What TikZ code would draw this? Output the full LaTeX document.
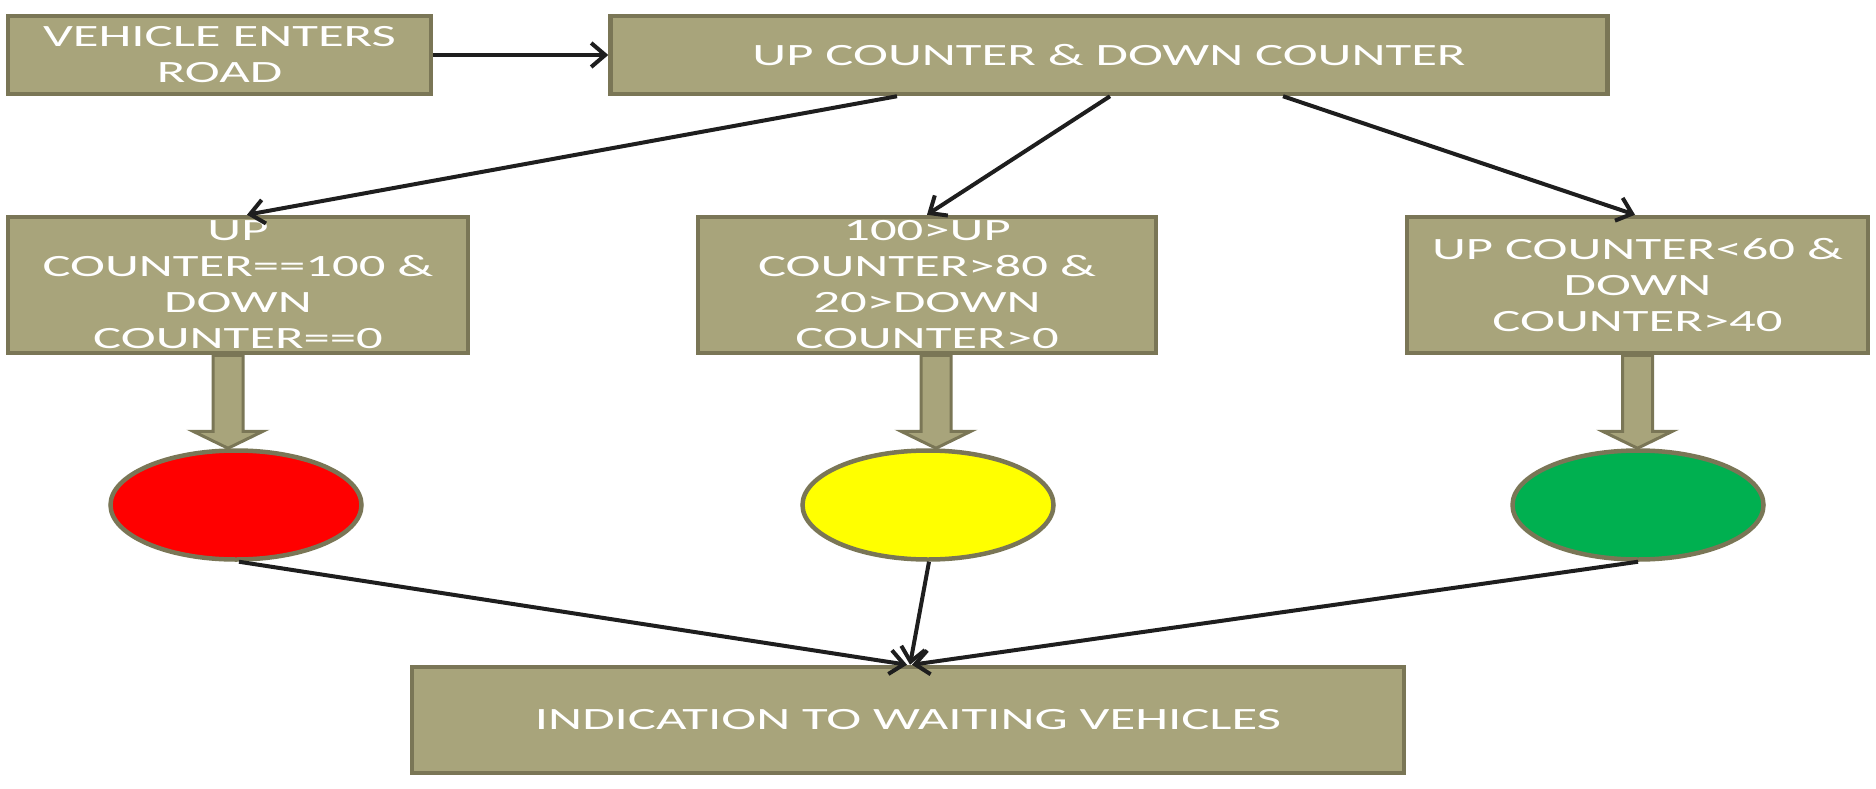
\documentclass[tikz,border=0pt]{standalone}
\usepackage{fontspec}
\setmainfont[FakeStretch=1.7]{Carlito}
\usetikzlibrary{arrows.meta,calc,shapes.geometric}
\definecolor{boxfill}{HTML}{A8A47B}
\definecolor{boxline}{HTML}{7A7656}
\definecolor{linecol}{HTML}{1E1E1E}
\definecolor{lampred}{HTML}{FF0000}
\definecolor{lampyellow}{HTML}{FFFF00}
\definecolor{lampgreen}{HTML}{00B050}
\newcommand\blockarr[2]{%
  \draw[blockarrow] let \p1=(#1), \p2=(#2) in
    ({\x1-15pt},{\y1}) -- ({\x1-15pt},{\y2+17pt}) -- ({\x1-35pt},{\y2+17pt}) --
    ({\x1},{\y2}) -- ({\x1+35pt},{\y2+17pt}) -- ({\x1+15pt},{\y2+17pt}) --
    ({\x1+15pt},{\y1}) -- cycle;}
\begin{document}
\begin{tikzpicture}[x=1pt,y=-1pt,
  box/.style={draw=boxline, line width=4.5pt, fill=boxfill, text=white,
    inner sep=0pt, align=center, font=\fontsize{31}{36}\selectfont},
  lamp/.style={ellipse, draw=boxline, line width=4.5pt, minimum width=251pt,
    minimum height=109pt, inner sep=0pt},
  conn/.style={draw=linecol, line width=4pt,
    -{Straight Barb[length=14pt,width=24pt,line width=4pt]}},
  blockarrow/.style={fill=boxfill, draw=boxline, line width=3pt, line join=miter}]
\useasboundingbox (0,0) rectangle (1876,789);
\node[box, minimum width=423pt, minimum height=78pt] (b1) at (219.5,55) {VEHICLE ENTERS\\ROAD};
\node[box, minimum width=997pt, minimum height=78pt] (b2) at (1109,55) {UP COUNTER \& DOWN COUNTER};
\node[box, minimum width=460pt, minimum height=136pt] (b3) at (238,285) {UP\\COUNTER==100 \&\\DOWN\\COUNTER==0};
\node[box, minimum width=458pt, minimum height=136pt] (b4) at (927,285) {100>UP\\COUNTER>80 \&\\20>DOWN\\COUNTER>0};
\node[box, minimum width=461pt, minimum height=136pt] (b5) at (1637.5,285) {UP COUNTER<60 \&\\DOWN\\COUNTER>40};
\node[lamp, fill=lampred] (e1) at (236,505) {};
\node[lamp, fill=lampyellow] (e2) at (928,505) {};
\node[lamp, fill=lampgreen] (e3) at (1638,505) {};
\node[box, minimum width=992pt, minimum height=106pt] (b6) at (908,720) {INDICATION TO WAITING VEHICLES};
\draw[conn] (b1.east) -- (b2.west);
\draw[conn] ([xshift=-212pt]b2.south) -- ([xshift=9pt]b3.north);
\draw[conn] ([xshift=1pt]b2.south) -- (b4.north);
\draw[conn] ([xshift=174pt]b2.south) -- ([xshift=-2.5pt]b5.north);
\blockarr{[xshift=-10pt]b3.south}{e1.north}
\blockarr{[xshift=9pt]b4.south}{e2.north}
\blockarr{b5.south}{e3.north}
\draw[conn] ([xshift=3pt]e1.south) -- ([xshift=-1pt]b6.north);
\draw[conn] ([xshift=1pt]e2.south) -- ([xshift=2pt]b6.north);
\draw[conn] (e3.south) -- ([xshift=4pt]b6.north);
\end{tikzpicture}
\end{document}
